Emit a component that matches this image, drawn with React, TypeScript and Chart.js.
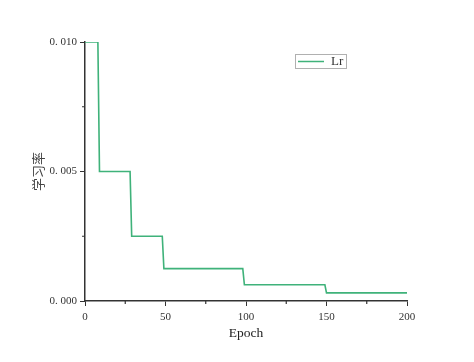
import React, { useEffect, useRef } from "react";
import { Chart, registerables } from "chart.js";

Chart.register(...registerables);

const epochs = [0, 8, 9, 28, 29, 48, 49, 98, 99, 149, 150, 200];
const learningRates = [
  0.01, 0.01, 0.005, 0.005, 0.0025, 0.0025, 0.00125, 0.00125, 0.000625, 0.000625, 0.0003125, 0.0003125,
];
const seriesLabel = "Lr";
const xTitle = "Epoch";
const yTitle = "学习率";
const xMinorTicks = [25, 75, 125, 175];
const yMinorTicks = [0.0025, 0.0075];

const LINE_COLOR = "#3fb27a";
const AXIS_COLOR = "#333333";

const legendPlugin = {
  id: "boxLegend",
  afterDraw(chart: any) {
    const ctx = chart.ctx;
    const ds = chart.data.datasets[0];
    const x = 295;
    const y = 54;
    const w = 51;
    const h = 14;
    ctx.save();
    ctx.fillStyle = "#ffffff";
    ctx.fillRect(x, y, w, h);
    ctx.strokeStyle = "#b0b0b0";
    ctx.lineWidth = 1;
    ctx.strokeRect(x + 0.5, y + 0.5, w, h);
    ctx.strokeStyle = ds.borderColor;
    ctx.lineWidth = 1.5;
    ctx.beginPath();
    ctx.moveTo(x + 3, y + 7.5);
    ctx.lineTo(x + 29, y + 7.5);
    ctx.stroke();
    ctx.fillStyle = "#333333";
    ctx.font = "13px 'Liberation Serif'";
    ctx.textBaseline = "middle";
    ctx.textAlign = "left";
    ctx.fillText(ds.label, x + 36, y + 8);
    ctx.restore();
  },
};

const minorTickPlugin = {
  id: "minorTicks",
  afterDraw(chart: any) {
    const ctx = chart.ctx;
    const xs = chart.scales.x;
    const ys = chart.scales.y;
    const { left, bottom } = chart.chartArea;
    ctx.save();
    ctx.strokeStyle = AXIS_COLOR;
    ctx.lineWidth = 1.2;
    ctx.beginPath();
    xMinorTicks.forEach((v) => {
      const px = xs.getPixelForValue(v);
      ctx.moveTo(px, bottom);
      ctx.lineTo(px, bottom + 3);
    });
    yMinorTicks.forEach((v) => {
      const py = ys.getPixelForValue(v);
      ctx.moveTo(left, py);
      ctx.lineTo(left - 3, py);
    });
    ctx.stroke();
    ctx.restore();
  },
};

export default function App() {
  const canvasRef = useRef<HTMLCanvasElement | null>(null);

  useEffect(() => {
    if (!canvasRef.current) return;
    const chart = new Chart(canvasRef.current, {
      type: "line",
      data: {
        datasets: [
          {
            label: seriesLabel,
            data: epochs.map((e, i) => ({ x: e, y: learningRates[i] })),
            borderColor: LINE_COLOR,
            backgroundColor: LINE_COLOR,
            borderWidth: 1.6,
            pointRadius: 0,
            tension: 0,
            fill: false,
          },
        ],
      },
      options: {
        animation: false,
        responsive: false,
        maintainAspectRatio: false,
        layout: { padding: { top: 42, right: 67, left: 0, bottom: 0 } },
        plugins: {
          legend: { display: false },
          tooltip: { enabled: false },
        },
        scales: {
          x: {
            type: "linear",
            min: 0,
            max: 200,
            afterFit: (scale: any) => {
              scale.height = 61;
            },
            border: { display: true, color: AXIS_COLOR, width: 1.5 },
            grid: {
              drawOnChartArea: false,
              drawTicks: true,
              tickLength: 5,
              tickColor: AXIS_COLOR,
            },
            ticks: {
              stepSize: 50,
              autoSkip: false,
              maxRotation: 0,
              padding: 5,
              color: "#333333",
              font: { family: "'Liberation Serif'", size: 11 },
            },
            title: {
              display: true,
              text: xTitle,
              color: "#222222",
              font: { family: "'Liberation Serif'", size: 13.5 },
              padding: { top: 0, bottom: 20 },
            },
          },
          y: {
            type: "linear",
            min: 0,
            max: 0.01,
            afterFit: (scale: any) => {
              scale.width = 85;
            },
            border: { display: true, color: AXIS_COLOR, width: 1.5 },
            grid: {
              drawOnChartArea: false,
              drawTicks: true,
              tickLength: 5,
              tickColor: AXIS_COLOR,
            },
            ticks: {
              stepSize: 0.005,
              autoSkip: false,
              padding: 3,
              color: "#333333",
              font: { family: "'Liberation Serif'", size: 11 },
              callback: (v: any) => Number(v).toFixed(3).replace(".", ". "),
            },
            title: {
              display: true,
              text: yTitle,
              color: "#444444",
              font: { family: "'Noto Sans CJK SC'", size: 13 },
              padding: { top: 30, bottom: 0 },
            },
          },
        },
      },
      plugins: [legendPlugin, minorTickPlugin],
    });
    return () => chart.destroy();
  }, []);

  return (
    <div style={{ position: "absolute", left: 0, top: 0, width: 474, height: 362, background: "#fff" }}>
      <canvas ref={canvasRef} width={474} height={362} />
    </div>
  );
}
